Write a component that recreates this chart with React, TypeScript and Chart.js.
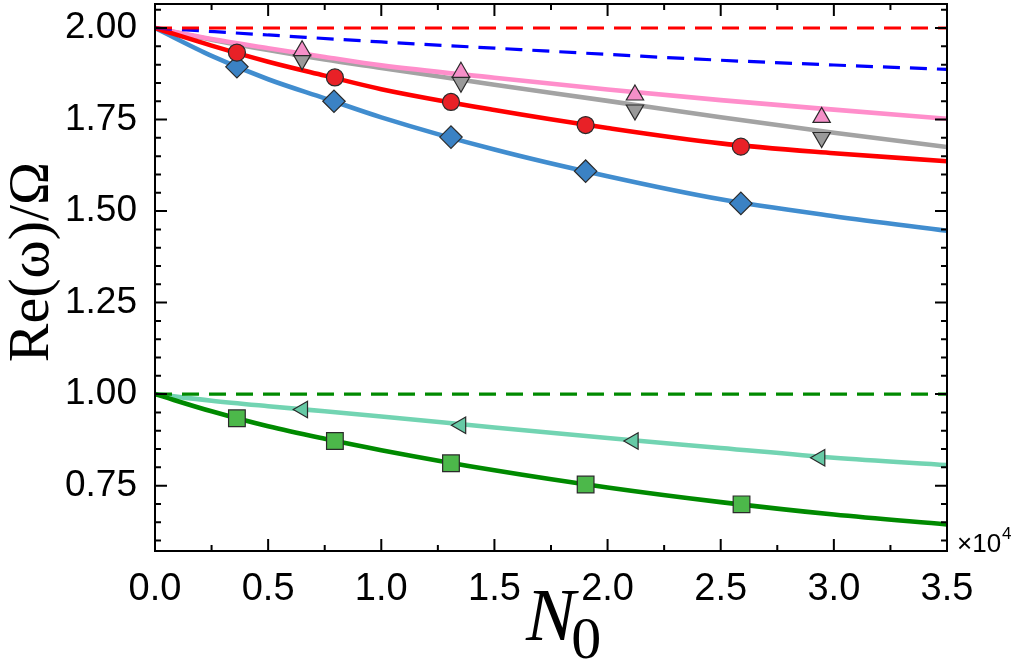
import React, { useEffect, useRef } from 'react';
import { Chart, registerables } from 'chart.js';
Chart.register(...registerables);

// ---- data (N0 in units of 10^4) ----
const curveX = [0, 0.25, 0.5, 0.75, 1.0, 1.5, 2.0, 2.5, 3.0, 3.5];
const pinkCurve = [2.0, 1.970, 1.945, 1.921, 1.898, 1.864, 1.832, 1.803, 1.777, 1.752];
const grayCurve = [2.0, 1.968, 1.940, 1.914, 1.891, 1.845, 1.801, 1.756, 1.714, 1.675];
const redCurve = [2.0, 1.952, 1.908, 1.870, 1.833, 1.776, 1.727, 1.685, 1.658, 1.636];
const blueCurve = [2.0, 1.924, 1.860, 1.808, 1.756, 1.668, 1.595, 1.532, 1.486, 1.446];
const greenCurve = [1.0, 0.953, 0.912, 0.878, 0.847, 0.792, 0.745, 0.705, 0.671, 0.644];
const tealCurve = [1.0, 0.982, 0.967, 0.953, 0.939, 0.909, 0.880, 0.853, 0.826, 0.806];

const dashX = [0, 0.5, 1.0, 1.5, 2.0, 2.5, 3.0, 3.5];
const redDashed = [2.0, 2.0, 2.0, 2.0, 2.0, 2.0, 2.0, 2.0];
const blueDashed = [2.0, 1.981, 1.962, 1.945, 1.928, 1.912, 1.899, 1.887];
const greenDashed = [1.0, 1.0, 1.0, 1.0, 1.0, 1.0, 1.0, 1.0];

const circleX = [0.362, 0.795, 1.308, 1.903, 2.589];
const circleY = [1.933, 1.865, 1.798, 1.735, 1.676];
const diamondX = [0.362, 0.791, 1.308, 1.903, 2.589];
const diamondY = [1.894, 1.800, 1.702, 1.609, 1.521];
const squareX = [0.362, 0.795, 1.308, 1.903, 2.592];
const squareY = [0.934, 0.872, 0.811, 0.753, 0.699];
const upX = [0.65, 1.352, 2.121, 2.946];
const upY = [1.938, 1.879, 1.817, 1.756];
const downX = [0.65, 1.352, 2.121, 2.946];
const downY = [1.913, 1.852, 1.776, 1.701];
const leftX = [0.653, 1.352, 2.114, 2.939];
const leftY = [0.958, 0.915, 0.872, 0.826];

const xTicks = [0, 0.25, 0.5, 0.75, 1.0, 1.25, 1.5, 1.75, 2.0, 2.25, 2.5, 2.75, 3.0, 3.25, 3.5];
const yTicks = [0.6, 0.65, 0.7, 0.75, 0.8, 0.85, 0.9, 0.95, 1.0, 1.05, 1.1, 1.15, 1.2, 1.25, 1.3, 1.35, 1.4,
  1.45, 1.5, 1.55, 1.6, 1.65, 1.7, 1.75, 1.8, 1.85, 1.9, 1.95, 2.0, 2.05];

const X_MIN = 0, X_MAX = 3.5, Y_MIN = 0.5715, Y_MAX = 2.0656;

const pts = (xs: number[], ys: number[]) => xs.map((x, i) => ({ x, y: ys[i] }));
const isMajorX = (v: number) => Math.abs(v / 0.5 - Math.round(v / 0.5)) < 1e-6;
const isMajorY = (v: number) => Math.abs(v / 0.25 - Math.round(v / 0.25)) < 1e-6;

const framePlugin = {
  id: 'frame',
  afterDraw(chart: any) {
    const { ctx, chartArea } = chart;
    const { left, right, top, bottom } = chartArea;
    const xs = chart.scales.x;
    const ys = chart.scales.y;
    ctx.save();
    ctx.strokeStyle = '#000';
    ctx.lineWidth = 2;
    ctx.strokeRect(left, top, right - left, bottom - top);
    ctx.beginPath();
    xTicks.forEach((v) => {
      const px = xs.getPixelForValue(v);
      const len = isMajorX(v) ? 12 : 6;
      ctx.moveTo(px, bottom); ctx.lineTo(px, bottom - len);
      ctx.moveTo(px, top); ctx.lineTo(px, top + len);
    });
    yTicks.forEach((v) => {
      const py = ys.getPixelForValue(v);
      const len = isMajorY(v) ? 12 : 6;
      ctx.moveTo(left, py); ctx.lineTo(left + len, py);
      ctx.moveTo(right, py); ctx.lineTo(right - len, py);
    });
    ctx.stroke();

    // y title
    ctx.fillStyle = '#000';
    ctx.save();
    ctx.translate(33, 262);
    ctx.rotate(-Math.PI / 2);
    ctx.font = '58px "Liberation Serif"';
    ctx.textAlign = 'center';
    ctx.textBaseline = 'middle';
    ctx.fillText('Re(ω)/Ω', 0, 0);
    ctx.restore();

    // x title N_0
    ctx.textAlign = 'left';
    ctx.textBaseline = 'alphabetic';
    ctx.font = 'italic 74px "Liberation Serif"';
    ctx.fillText('N', 526, 640);
    const nw = ctx.measureText('N').width;
    ctx.font = '60px "Liberation Serif"';
    ctx.fillText('0', 526 + nw - 4, 658);

    // multiplier
    ctx.font = '26px "Liberation Sans"';
    ctx.fillText('×10', 957, 552);
    const mw = ctx.measureText('×10').width;
    ctx.font = '17px "Liberation Sans"';
    ctx.fillText('4', 957 + mw + 1, 539);
    ctx.restore();
  },
};

export default function App() {
  const ref = useRef<HTMLCanvasElement>(null);
  useEffect(() => {
    if (!ref.current) return;
    const marker = (data: any, style: string, color: string, radius: number, rotation = 0, order = 0) => ({
      data, showLine: false, pointStyle: style, pointRadius: radius, pointHoverRadius: radius,
      pointRotation: rotation, backgroundColor: color, borderColor: '#2a2a2a', borderWidth: 1.2, order,
    });
    const line = (data: any, color: string, width: number, order: number, dash: number[] = []) => ({
      data, showLine: true, pointRadius: 0, borderColor: color, borderWidth: width,
      borderDash: dash, cubicInterpolationMode: 'monotone', backgroundColor: color, order, fill: false,
    });
    const chart = new Chart(ref.current, {
      type: 'scatter',
      data: {
        datasets: [
          marker(pts(circleX, circleY), 'circle', '#e82127', 8.5),
          marker(pts(diamondX, diamondY), 'rectRot', '#3b82c4', 11.2),
          marker(pts(squareX, squareY), 'rect', '#4cb84a', 11.8),
          marker(pts(upX, upY), 'triangle', '#f58fc8', 10),
          marker(pts(downX, downY), 'triangle', '#999999', 10, 180),
          marker(pts(leftX, leftY), 'triangle', '#66c9a5', 9.5, -90),
          line(pts(dashX, redDashed), '#ff0000', 3.2, 2, [17, 10]),
          line(pts(dashX, blueDashed), '#0000ff', 3.2, 2, [17, 10]),
          line(pts(dashX, greenDashed), '#008a00', 3.2, 2, [17, 10]),
          line(pts(curveX, redCurve), '#ff0000', 4.6, 3),
          line(pts(curveX, pinkCurve), '#ff8ecb', 4.6, 4),
          line(pts(curveX, grayCurve), '#a3a3a3', 4.6, 5),
          line(pts(curveX, blueCurve), '#418dcf', 4.6, 6),
          line(pts(curveX, greenCurve), '#008a00', 4.6, 7),
          line(pts(curveX, tealCurve), '#72d4b2', 4.6, 8),
        ] as any,
      },
      options: {
        animation: false,
        responsive: false,
        layout: { autoPadding: false, padding: { left: 0, right: 73, top: 4, bottom: 0 } },
        plugins: { legend: { display: false }, tooltip: { enabled: false } },
        scales: {
          x: {
            type: 'linear', min: X_MIN, max: X_MAX,
            grid: { display: false, drawTicks: false },
            border: { display: false },
            afterBuildTicks: (s: any) => { s.ticks = xTicks.map((v) => ({ value: v })); },
            afterFit: (s: any) => {
              s.height = 111;
              s.paddingLeft = 0; s.paddingRight = 0; s.paddingTop = 0; s.paddingBottom = 0;
            },
            ticks: {
              autoSkip: false, maxRotation: 0, padding: 16, color: '#000',
              font: { family: 'Liberation Sans', size: 38 },
              callback: (v: any) => (isMajorX(Number(v)) ? Number(v).toFixed(1) : ''),
            },
          },
          y: {
            type: 'linear', min: Y_MIN, max: Y_MAX,
            grid: { display: false, drawTicks: false },
            border: { display: false },
            afterBuildTicks: (s: any) => { s.ticks = yTicks.map((v) => ({ value: v })); },
            afterFit: (s: any) => {
              s.width = 155;
              s.paddingLeft = 0; s.paddingRight = 0; s.paddingTop = 0; s.paddingBottom = 0;
            },
            ticks: {
              autoSkip: false, padding: 18, color: '#000',
              font: { family: 'Liberation Sans', size: 37 },
              callback: (v: any) => (isMajorY(Number(v)) ? Number(v).toFixed(2) : ''),
            },
          },
        },
      } as any,
      plugins: [framePlugin],
    });
    return () => chart.destroy();
  }, []);
  return (
    <div style={{ position: 'absolute', left: 0, top: 0, width: 1020, height: 662, background: '#fff' }}>
      <canvas ref={ref} width={1020} height={662} style={{ display: 'block' }} />
    </div>
  );
}
